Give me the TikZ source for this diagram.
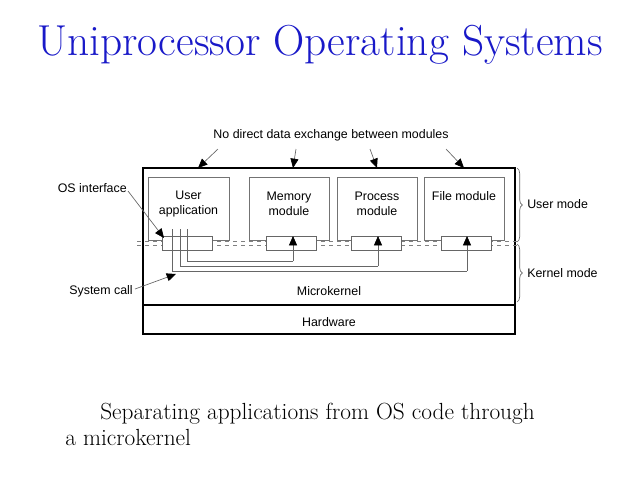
\documentclass[tikz,border=0pt]{standalone}
\usepackage{fontspec}
\newfontfamily\dsans{Liberation Sans}
\usetikzlibrary{arrows.meta,decorations.pathreplacing}
\definecolor{titleblue}{RGB}{25,25,200}
\begin{document}
\begin{tikzpicture}[x=0.75pt,y=-0.75pt,
  lbl/.style={font=\dsans\fontsize{9.3}{11}\selectfont,inner sep=0pt},
  box/.style={draw=black!55,line width=0.6pt},
  iface/.style={draw=black!60,fill=white,line width=0.6pt,minimum width=37.5pt,minimum height=10.5pt,inner sep=0pt},
  conn/.style={draw=black!60,line width=0.6pt},
  arr/.style={-{Triangle[length=7pt,width=6pt,color=black]},line width=0.5pt,draw=black!60},
  brace/.style={decorate,decoration={brace,amplitude=4pt},draw=black!60,line width=0.5pt}]
\useasboundingbox (0,0) rectangle (638,479);
\node[font=\fontsize{32.5}{36}\selectfont,text=titleblue] (title) at (320,45) {Uniprocessor Operating Systems};
% outer
\draw[line width=1pt] (143,168) rectangle (515,334);
\draw[line width=1pt] (143,305) -- (515,305);
% dashed separation
\draw[dashed,black!50,line width=0.5pt] (137,241.5) -- (520,241.5);
\draw[dashed,black!50,line width=0.5pt] (137,245) -- (520,245);
% modules
\draw[box] (148,177) rectangle (229,240);
\draw[box] (249,177) rectangle (329,240);
\draw[box] (337,177) rectangle (417,240);
\draw[box] (424,177) rectangle (504,240);
\node[lbl,align=center] (ua) at (188.5,204) {User\\application};
\node[lbl,align=center] (mm) at (289,204) {Memory\\module};
\node[lbl,align=center] (pm) at (377,204) {Process\\module};
\node[lbl] (fm) at (464,196) {File module};
% interfaces
\node[iface] (i1) at (187,243) {};
\node[iface] (i2) at (291,243) {};
\node[iface] (i3) at (376,243) {};
\node[iface] (i4) at (466,243) {};
% connections
\coordinate (c1) at (172,229); \coordinate (c2) at (180,229); \coordinate (c3) at (187,229);
\draw[conn] (c3) -- (187,261) -- (293,261);
\draw[arr] (293,261) -- (293,236);
\draw[conn] (c2) -- (180,266) -- (378,266);
\draw[arr] (378,266) -- (378,236);
\draw[conn] (c1) -- (172,271) -- (467,271);
\draw[arr] (467,271) -- (467,236);
% texts
\node[lbl] (mk) at (329,291) {Microkernel};
\node[lbl] (hw) at (329,322) {Hardware};
\node[lbl] (nd) at (331,135) {No direct data exchange between modules};
\coordinate (t1) at (198,168); \coordinate (t2) at (293,168);
\coordinate (t3) at (377,168); \coordinate (t4) at (464,168);
\draw[arr] (218,149) -- (t1);
\draw[arr] (296,149) -- (t2);
\draw[arr] (370,149) -- (t3);
\draw[arr] (446,149) -- (t4);
\node[lbl,anchor=east] (osi) at (127,188) {OS interface};
\coordinate (osit) at (164,238);
\draw[arr] (128,191) -- (osit);
\node[lbl,anchor=east] (sc) at (133,291) {System call};
\coordinate (sct) at (176,274);
\draw[arr] (135,289) -- (sct);
% braces
\draw[brace] (517,168) -- (517,242);
\draw[brace] (517,244) -- (517,302);
\node[lbl,anchor=west] (um) at (527,204) {User mode};
\node[lbl,anchor=west] (km) at (527,273) {Kernel mode};
% caption
\node[anchor=base west,font=\fontsize{17.5}{20}\selectfont,inner sep=0pt] (cap1) at (100,419) {Separating applications from OS code through};
\node[anchor=base west,font=\fontsize{17.5}{20}\selectfont,inner sep=0pt] (cap2) at (65,445) {a microkernel};
\end{tikzpicture}
\end{document}
